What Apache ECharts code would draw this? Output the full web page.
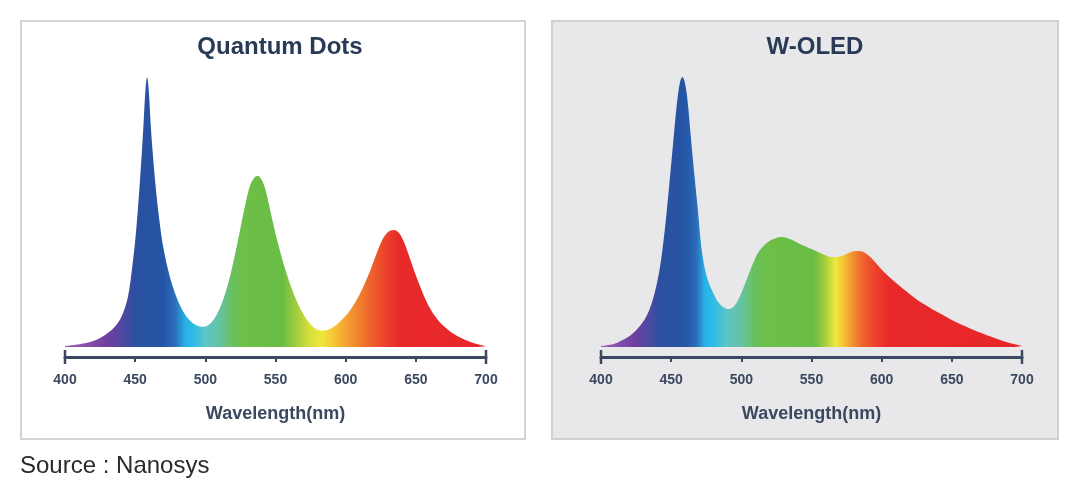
<!DOCTYPE html>
<html>
<head>
<meta charset="utf-8">
<script src="https://cdn.jsdelivr.net/npm/echarts@6/dist/echarts.min.js"></script>
<style>
  html, body { margin: 0; padding: 0; background: #fff; }
  #main { width: 1080px; height: 500px; }
</style>
</head>
<body>
<div id="main"></div>
<script>
// wavelength ticks shared by both panels
const waveTicks = [400, 450, 500, 550, 600, 650, 700];

// Quantum Dots spectrum (relative intensity, blue peak = 1)
const qdWave = [400, 406, 412, 418, 424, 430, 435, 439, 442, 445, 448, 450.5, 452.5, 454.5, 456, 457.3, 458.5, 459.7, 461, 462.5,
  464.5, 467, 470, 473.5, 477, 481, 485, 489, 493, 497, 501, 505, 509, 513, 517, 521, 525, 529, 532, 535,
  537.5, 540, 543, 546.5, 550, 554, 558, 562, 566, 570, 574, 578, 582, 586, 590, 594, 598, 602, 606, 610,
  614, 618, 622, 626, 630, 634, 637.5, 641, 645, 649, 653, 657, 661, 665, 670, 676, 682, 688, 694, 700];
const qdLevel = [0.003, 0.007, 0.012, 0.019, 0.031, 0.05, 0.072, 0.10, 0.135, 0.19, 0.30, 0.42, 0.55, 0.70, 0.83, 0.95, 1.0, 0.95, 0.83, 0.72,
  0.60, 0.48, 0.37, 0.285, 0.22, 0.165, 0.125, 0.098, 0.082, 0.075, 0.078, 0.095, 0.13, 0.18, 0.25, 0.34, 0.44, 0.54, 0.60, 0.628,
  0.633, 0.62, 0.58, 0.50, 0.42, 0.34, 0.27, 0.21, 0.16, 0.12, 0.09, 0.07, 0.061, 0.062, 0.07, 0.085, 0.105, 0.128, 0.158, 0.195,
  0.24, 0.29, 0.345, 0.395, 0.425, 0.433, 0.425, 0.395, 0.34, 0.28, 0.225, 0.175, 0.135, 0.105, 0.077, 0.052, 0.034, 0.02, 0.01, 0.003];

// W-OLED spectrum
const oledWave = [400, 406, 412, 418, 423, 428, 432, 436, 440, 443, 446, 449, 452, 454.5, 456.5, 458, 459.5, 461.5, 464, 466.5,
  469, 471.5, 474, 477, 480, 483, 486, 489, 491, 494, 497, 500, 503, 506, 509, 512, 516, 520, 524, 528,
  532, 536, 540, 545, 550, 555, 560, 565, 570, 574, 578, 582, 586, 590, 594, 598, 602, 607, 612, 618,
  624, 630, 636, 642, 648, 654, 660, 666, 672, 678, 684, 690, 695, 700];
const oledLevel = [0.003, 0.008, 0.017, 0.033, 0.052, 0.08, 0.11, 0.16, 0.24, 0.33, 0.46, 0.62, 0.79, 0.92, 0.985, 1.0, 0.985, 0.92, 0.78, 0.64,
  0.51, 0.37, 0.29, 0.235, 0.20, 0.17, 0.152, 0.143, 0.141, 0.147, 0.168, 0.20, 0.24, 0.28, 0.318, 0.35, 0.375, 0.393, 0.402, 0.407,
  0.405, 0.397, 0.386, 0.374, 0.363, 0.351, 0.34, 0.333, 0.335, 0.343, 0.352, 0.356, 0.354, 0.342, 0.322, 0.298, 0.276, 0.252, 0.23, 0.205,
  0.18, 0.159, 0.14, 0.123, 0.106, 0.09, 0.076, 0.062, 0.05, 0.038, 0.027, 0.017, 0.01, 0.004];

function pairs(xs, ys) {
  return xs.map((x, i) => [x, ys[i]]);
}

// spectrum colours, stop given in nm
function spectrum(stops) {
  return new echarts.graphic.LinearGradient(0, 0, 1, 0,
    stops.map(s => ({ offset: (s[0] - 400) / 300, color: s[1] })));
}

const qdColors = spectrum([
  [400, '#9c62b6'], [420, '#8149a7'], [432, '#6a3f9f'], [442, '#4a4aa0'], [450, '#2c50a0'],
  [470, '#2455a6'], [478, '#2b6db8'], [486, '#27b2e6'], [492, '#2fbce6'], [500, '#5ec5c4'],
  [510, '#64c3a2'], [520, '#6bbf5a'], [528, '#6dbf47'], [555, '#6abd44'], [565, '#a2cd3d'],
  [575, '#d8e03b'], [583, '#eee73c'], [592, '#f6c235'], [602, '#f49a31'], [614, '#f0702c'],
  [626, '#ec4a2b'], [638, '#e8292a'], [700, '#e7262a']
]);
const oledColors = spectrum([
  [400, '#9c62b6'], [415, '#8149a7'], [425, '#6a3f9f'], [435, '#4a4aa0'], [442, '#2c50a0'],
  [460, '#2455a6'], [468, '#2b6db8'], [474, '#27b2e6'], [480, '#2fbce6'], [490, '#5ec5c4'],
  [500, '#64c3a2'], [510, '#6bbf5a'], [518, '#6dbf47'], [552, '#6abd44'], [560, '#a8cf3c'],
  [567, '#ede73c'], [572, '#f4c936'], [578, '#f49a31'], [586, '#f0672c'], [596, '#ec3f2b'],
  [606, '#e8292a'], [700, '#e7262a']
]);

const axisColor = '#3a4860';

function waveAxis(gridIndex) {
  return {
    type: 'value',
    gridIndex: gridIndex,
    min: 400,
    max: 700,
    interval: 50,
    name: 'Wavelength(nm)',
    nameLocation: 'middle',
    nameGap: 48,
    nameTextStyle: { color: axisColor, fontSize: 18, fontWeight: 'bold', fontFamily: 'Liberation Sans' },
    axisLine: {
      show: true,
      onZero: false,
      symbol: ['rect', 'rect'],
      symbolSize: [14, 2.5],
      lineStyle: { color: axisColor, width: 3 }
    },
    axisTick: { show: true, length: 5, lineStyle: { color: axisColor, width: 2 }, customValues: waveTicks },
    axisLabel: {
      color: axisColor, fontSize: 14, fontWeight: 'bold', fontFamily: 'Liberation Sans', margin: 16,
      customValues: waveTicks
    },
    splitLine: { show: false }
  };
}

// baseline of the fill sits a little above the axis line
function levelAxis(gridIndex) {
  return { type: 'value', gridIndex: gridIndex, min: -0.037, max: 1, show: false };
}

function spectrumSeries(i, data, colors) {
  return {
    type: 'line',
    xAxisIndex: i,
    yAxisIndex: i,
    data: data,
    smooth: 0.35,
    showSymbol: false,
    clip: false,
    lineStyle: { width: 0 },
    areaStyle: { color: colors, opacity: 1, origin: 'auto' },
    silent: true
  };
}

let chart = echarts.init(document.getElementById('main'), null, { renderer: 'canvas' });

chart.setOption({
  animation: false,
  backgroundColor: '#ffffff',
  title: [
    { text: 'Quantum Dots', left: 275, top: 30, textAlign: 'center',
      textStyle: { color: '#283a55', fontSize: 24, fontWeight: 'bold', fontFamily: 'Liberation Sans' } },
    { text: 'W-OLED', left: 810, top: 30, textAlign: 'center',
      textStyle: { color: '#283a55', fontSize: 24, fontWeight: 'bold', fontFamily: 'Liberation Sans' } }
  ],
  graphic: [
    { type: 'rect', z: -10, shape: { x: 21, y: 21, width: 504, height: 418 },
      style: { fill: '#ffffff', stroke: '#d4d4d6', lineWidth: 2 } },
    { type: 'rect', z: -10, shape: { x: 552, y: 21, width: 506, height: 418 },
      style: { fill: '#e8e8ea', stroke: '#d0d0d2', lineWidth: 2 } },
    { type: 'text', left: 20, top: 454,
      style: { text: 'Source : Nanosys', fill: '#2a2a2a', fontSize: 24, fontFamily: 'Liberation Sans' } }
  ],
  grid: [
    { left: 65, right: 594, top: 77, bottom: 143 },
    { left: 601, right: 58, top: 77, bottom: 143 }
  ],
  xAxis: [waveAxis(0), waveAxis(1)],
  yAxis: [levelAxis(0), levelAxis(1)],
  series: [
    spectrumSeries(0, pairs(qdWave, qdLevel), qdColors),
    spectrumSeries(1, pairs(oledWave, oledLevel), oledColors)
  ]
});
</script>
</body>
</html>
